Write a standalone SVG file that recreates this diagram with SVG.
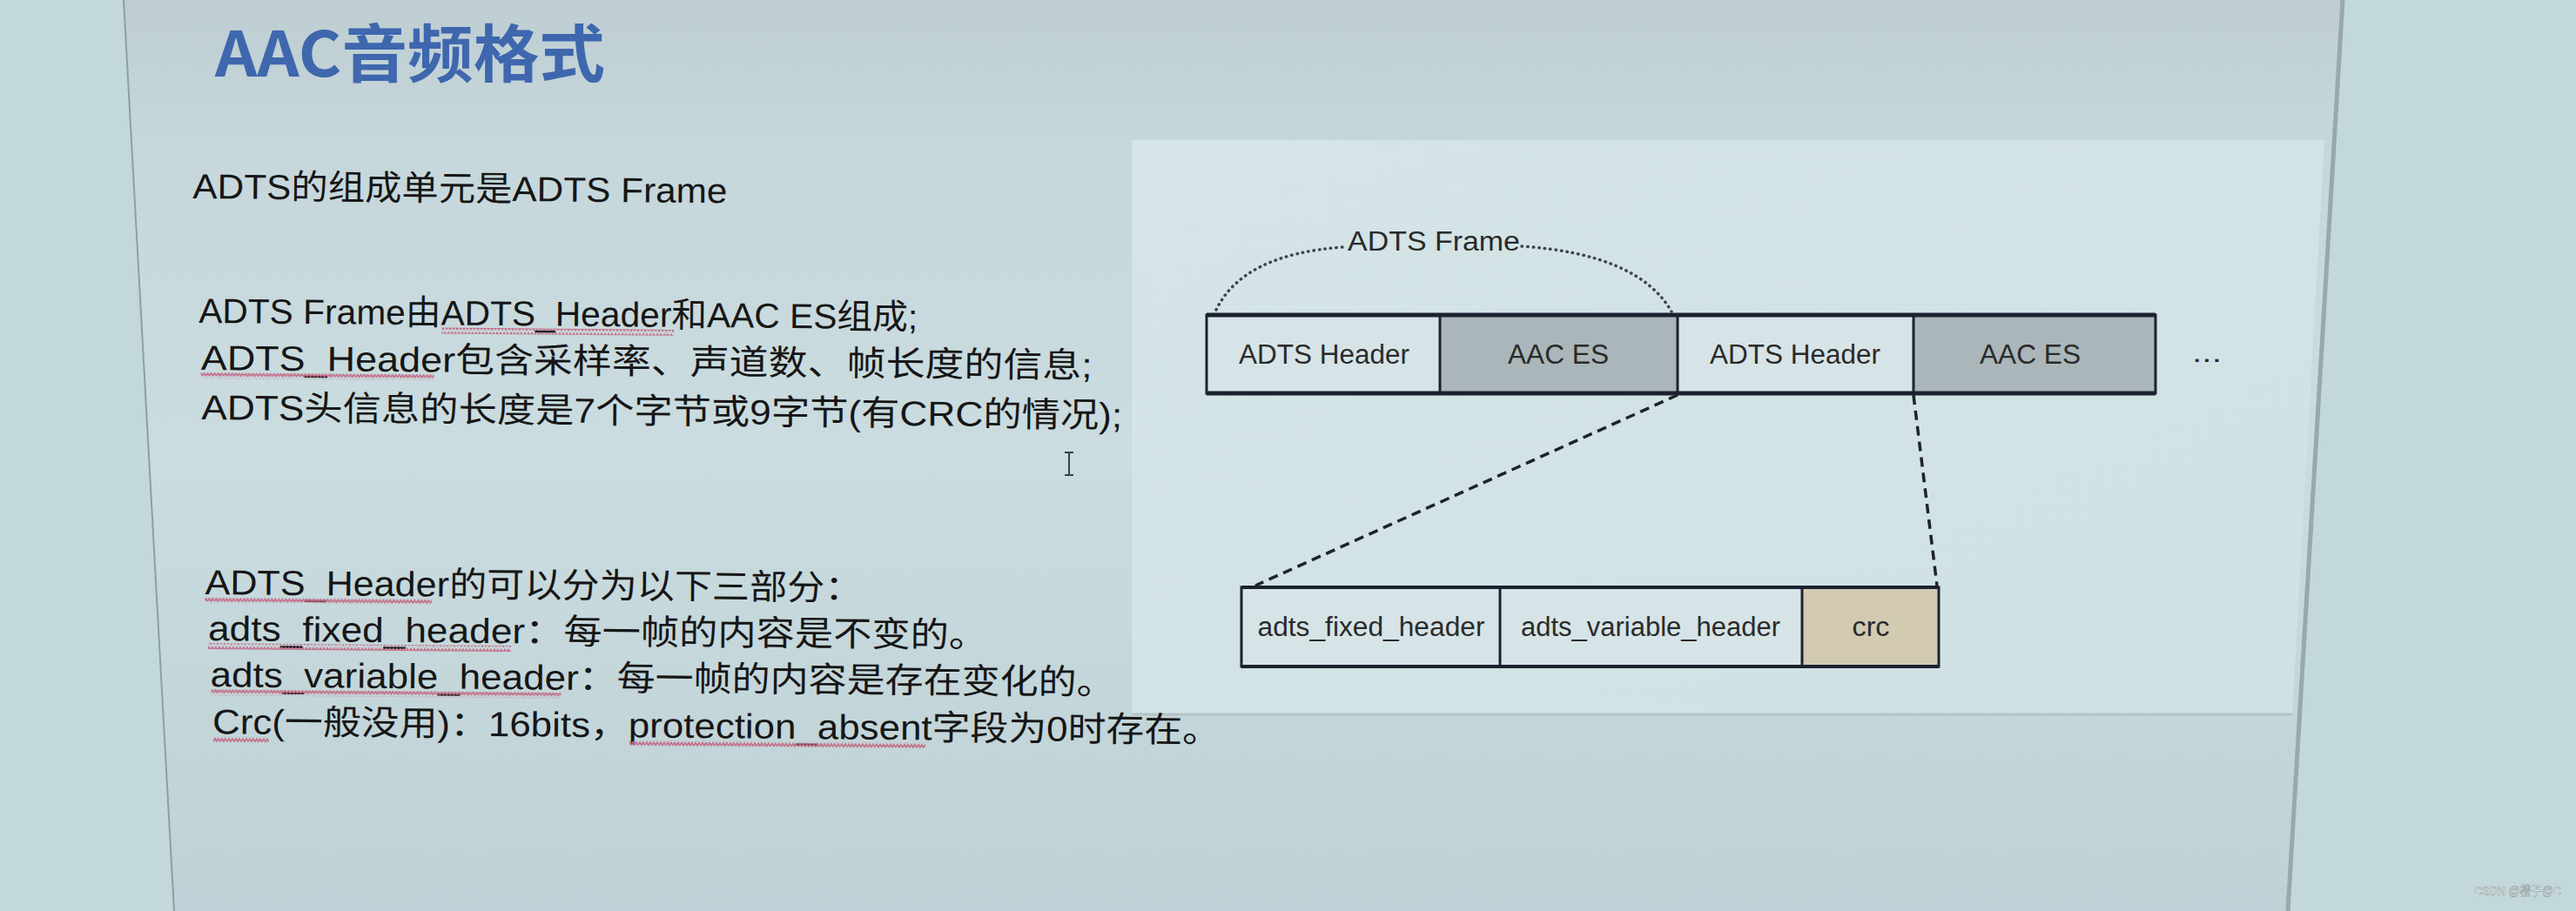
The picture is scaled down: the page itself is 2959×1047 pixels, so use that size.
<svg xmlns="http://www.w3.org/2000/svg" width="2959" height="1047" viewBox="0 0 2959 1047">
  <defs>
    <linearGradient id="slideGrad" x1="0" y1="0" x2="0" y2="1">
      <stop offset="0" stop-color="#bdcdd1"/>
      <stop offset="0.15" stop-color="#c6d7db"/>
      <stop offset="0.5" stop-color="#cadcdf"/>
      <stop offset="1" stop-color="#bed1d6"/>
    </linearGradient>
    <linearGradient id="panelGrad" x1="0" y1="0" x2="1" y2="1">
      <stop offset="0" stop-color="#d4e4e7"/>
      <stop offset="1" stop-color="#d0e1e4"/>
    </linearGradient>
    <pattern id="sq" width="8" height="7" patternUnits="userSpaceOnUse">
      <path d="M0,5 L2,1.5 L4,5 L6,1.5 L8,5" fill="none" stroke="#c46a86" stroke-width="1.6"/>
    </pattern>
    <style>
      .body { font-family: "Liberation Sans", "Noto Sans CJK SC", sans-serif; font-size: 40px; fill: #161616; }
      .dg { font-family: "Liberation Sans", Arial, sans-serif; font-size: 31px; fill: #2a2a2a; text-anchor: middle; }
      .cellL { fill: #d6e4e7; }
      .cellG { fill: #aab6b9; }
      .cellC { fill: #d2cbb2; }
      .bar { fill: none; stroke: #1c2230; }
      .sq { fill: url(#sq); }
      .dash { fill: none; stroke: #1e232b; stroke-width: 3.5; stroke-dasharray: 11 7; }
      .dot { fill: none; stroke: #3f464f; stroke-width: 3.5; stroke-dasharray: 0.5 6; stroke-linecap: round; }
    </style>
  </defs>

  <!-- photo background -->
  <rect x="0" y="0" width="2959" height="1047" fill="#c3d8da"/>
  <polygon points="142,0 2691,0 2628,1047 200,1047" fill="url(#slideGrad)"/>
  <line x1="142" y1="0" x2="200" y2="1047" stroke="#8f9ea1" stroke-width="2"/>
  <line x1="2691" y1="0" x2="2628" y2="1047" stroke="#98a8ab" stroke-width="5"/>

  <!-- diagram panel -->
  <polygon points="1300,161 2670,161 2633,820 1300,820" fill="url(#panelGrad)"/>
  <line x1="1300" y1="821" x2="2633" y2="821" stroke="#b3c3c7" stroke-width="3"/>

  <!-- title -->
  <g id="title">
    <text x="247" y="88" font-family="'Noto Sans CJK SC', sans-serif" font-weight="bold" font-size="72" fill="#3e67ae" textLength="448" lengthAdjust="spacingAndGlyphs">AAC音频格式</text>
  </g>

  <!-- text block -->
  <g id="text-block" transform="rotate(0.5 230 500)">
    <text class="body" x="219" y="228" textLength="614" lengthAdjust="spacingAndGlyphs">ADTS的组成单元是ADTS Frame</text>
    <text class="body" x="227" y="371" textLength="826" lengthAdjust="spacingAndGlyphs">ADTS Frame由ADTS_Header和AAC ES组成;</text>
    <text class="body" x="230" y="425" textLength="1024" lengthAdjust="spacingAndGlyphs">ADTS_Header包含采样率、声道数、帧长度的信息;</text>
    <text class="body" x="231" y="482" textLength="1058" lengthAdjust="spacingAndGlyphs">ADTS头信息的长度是7个字节或9字节(有CRC的情况);</text>
    <text class="body" x="237" y="683" textLength="755" lengthAdjust="spacingAndGlyphs">ADTS_Header的可以分为以下三部分：</text>
    <text class="body" x="241" y="736" textLength="895" lengthAdjust="spacingAndGlyphs">adts_fixed_header：每一帧的内容是不变的。</text>
    <text class="body" x="244" y="789" textLength="1039" lengthAdjust="spacingAndGlyphs">adts_variable_header：每一帧的内容是存在变化的。</text>
    <text class="body" x="247" y="843" textLength="1158" lengthAdjust="spacingAndGlyphs">Crc(一般没用)：16bits，protection_absent字段为0时存在。</text>
    <!-- spell-check squiggles -->
    <rect class="sq" x="506" y="374" width="267" height="7"/>
    <rect class="sq" x="230" y="428" width="268" height="7"/>
    <rect class="sq" x="237" y="686" width="261" height="7"/>
    <rect class="sq" x="241" y="739" width="348" height="7"/>
    <rect class="sq" x="245" y="792" width="402" height="7"/>
    <rect class="sq" x="248" y="846" width="64" height="7"/>
    <rect class="sq" x="726" y="846" width="340" height="7"/>
  </g>
  <!-- text cursor -->
  <path d="M1223,520 L1233,520 M1228,520 L1228,546 M1223,546 L1233,546" stroke="#3a3f45" stroke-width="2" fill="none"/>

  <!-- frame label -->
  <g id="label-adts-frame">
    <text class="dg" x="1647" y="288" font-size="34" textLength="198" lengthAdjust="spacingAndGlyphs">ADTS Frame</text>
  </g>

  <!-- top stream nodes -->
  <g id="node-adts-header-1">
    <rect class="cellL" x="1386" y="362" width="268" height="90"/>
    <text class="dg" x="1521" y="418" textLength="196" lengthAdjust="spacingAndGlyphs">ADTS Header</text>
  </g>
  <g id="node-aac-es-1">
    <rect class="cellG" x="1654" y="362" width="273" height="90"/>
    <text class="dg" x="1790" y="418" textLength="116" lengthAdjust="spacingAndGlyphs">AAC ES</text>
  </g>
  <g id="node-adts-header-2">
    <rect class="cellL" x="1927" y="362" width="271" height="90"/>
    <text class="dg" x="2062" y="418" textLength="196" lengthAdjust="spacingAndGlyphs">ADTS Header</text>
  </g>
  <g id="node-aac-es-2">
    <rect class="cellG" x="2198" y="362" width="278" height="90"/>
    <text class="dg" x="2332" y="418" textLength="116" lengthAdjust="spacingAndGlyphs">AAC ES</text>
  </g>
  <g id="stream-border">
    <rect class="bar" x="1386" y="362" width="1090" height="90" stroke-width="3"/>
    <line class="bar" x1="1386" y1="362" x2="2476" y2="362" stroke-width="5"/>
    <line class="bar" x1="1386" y1="452" x2="2476" y2="452" stroke-width="5"/>
    <line class="bar" x1="1654" y1="362" x2="1654" y2="452" stroke-width="3"/>
    <line class="bar" x1="1927" y1="362" x2="1927" y2="452" stroke-width="3"/>
    <line class="bar" x1="2198" y1="362" x2="2198" y2="452" stroke-width="3"/>
  </g>
  <g id="node-ellipsis">
    <text class="dg" x="2535" y="416" font-size="36" textLength="34" lengthAdjust="spacingAndGlyphs">...</text>
  </g>

  <!-- header breakdown nodes -->
  <g id="node-adts-fixed-header">
    <rect class="cellL" x="1426" y="675" width="297" height="91"/>
    <text class="dg" x="1575" y="731" textLength="261" lengthAdjust="spacingAndGlyphs">adts_fixed_header</text>
  </g>
  <g id="node-adts-variable-header">
    <rect class="cellL" x="1723" y="675" width="347" height="91"/>
    <text class="dg" x="1896" y="731" textLength="298" lengthAdjust="spacingAndGlyphs">adts_variable_header</text>
  </g>
  <g id="node-crc">
    <rect class="cellC" x="2070" y="675" width="157" height="91"/>
    <text class="dg" x="2149" y="731" textLength="43" lengthAdjust="spacingAndGlyphs">crc</text>
  </g>
  <g id="header-border">
    <rect class="bar" x="1426" y="675" width="801" height="91" stroke-width="3"/>
    <line class="bar" x1="1426" y1="675" x2="2227" y2="675" stroke-width="4"/>
    <line class="bar" x1="1426" y1="766" x2="2227" y2="766" stroke-width="4"/>
    <line class="bar" x1="1723" y1="675" x2="1723" y2="766" stroke-width="3"/>
    <line class="bar" x1="2070" y1="675" x2="2070" y2="766" stroke-width="3"/>
  </g>

  <!-- connectors -->
  <g id="connectors">
    <path class="dot" d="M1397,356 Q1428,292 1543,284"/>
    <path class="dot" d="M1748,283 Q1882,292 1920,358"/>
    <line class="dash" x1="1927" y1="454" x2="1442" y2="673"/>
    <line class="dash" x1="2198" y1="454" x2="2225" y2="673"/>
  </g>

  <!-- watermark -->
  <text x="2842" y="1029" font-family="'Liberation Sans', 'Noto Sans CJK SC', sans-serif" font-size="15" fill="#ffffff" stroke="#7d8b8e" stroke-width="0.5" textLength="100" lengthAdjust="spacingAndGlyphs">CSDN @橙子@C</text>
</svg>
